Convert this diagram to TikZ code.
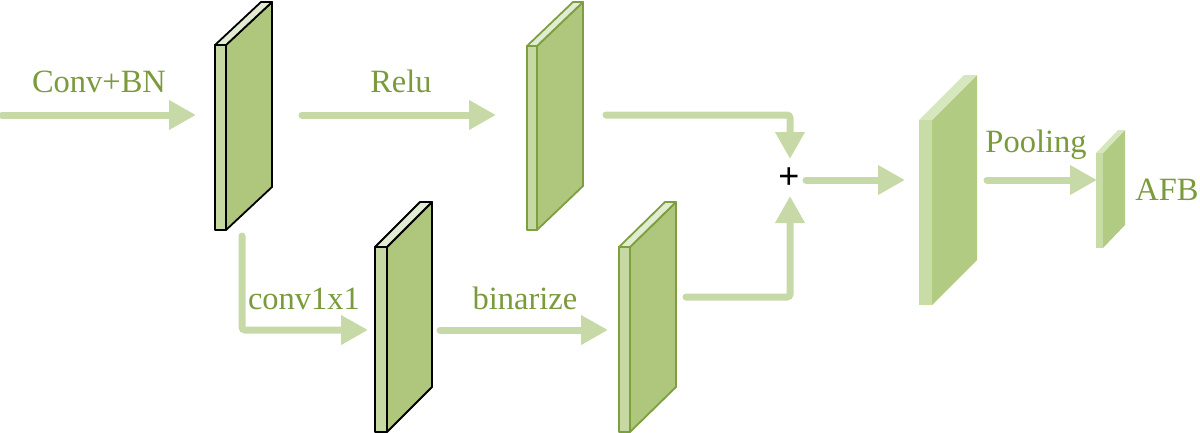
\documentclass[tikz,border=0pt]{standalone}
\usepackage{fontspec}
\setmainfont{Liberation Serif}
\newfontfamily\plusfont{Liberation Sans}
\usetikzlibrary{arrows.meta}
\definecolor{arrowc}{HTML}{C6D9A6}
\definecolor{txtc}{HTML}{7A9A3C}
\definecolor{sidec}{HTML}{AFC67D}
\definecolor{frontc}{HTML}{C6D9A3}
\definecolor{topc}{HTML}{E2ECD2}
\definecolor{edgec}{HTML}{7E9F40}
\definecolor{sidel}{HTML}{B2CB82}
\definecolor{frontl}{HTML}{C8DCA6}
\definecolor{topl}{HTML}{D6E6BE}
% #1 x, #2 ytop, #3 front width, #4 height, #5 dx, #6 dy, #7 side, #8 front, #9 outline opts
\newcommand\fmapblock[9]{%
  \path[fill=#8,#9] (#1,#2) rectangle (#1+#3,#2+#4);
  \path[fill=#7,#9] (#1+#3,#2) -- (#1+#3+#5,#2-#6) -- (#1+#3+#5,#2+#4-#6) -- (#1+#3,#2+#4) -- cycle;
  \path[fill=topc,#9] (#1,#2) -- (#1+#3,#2) -- (#1+#3+#5,#2-#6) -- (#1+#5,#2-#6) -- cycle;
}
\newcommand\fmapblockl[6]{%
  \path[fill=frontl] (#1,#2) rectangle (#1+#3,#2+#4);
  \path[fill=sidel] (#1+#3,#2) -- (#1+#3+#5,#2-#6) -- (#1+#3+#5,#2+#4-#6) -- (#1+#3,#2+#4) -- cycle;
  \path[fill=topl] (#1,#2) -- (#1+#3,#2) -- (#1+#3+#5,#2-#6) -- (#1+#5,#2-#6) -- cycle;
}
\tikzset{
  flow/.style={draw=arrowc, line width=7pt, line cap=round, rounded corners=3pt,
    -{Triangle[length=27pt,width=28pt]}},
  lbl/.style={text=txtc, font=\fontsize{32.5}{36}\selectfont, anchor=base, inner sep=0pt},
  plussign/.style={text=black, font=\plusfont\fontsize{36}{38}\selectfont, inner sep=0pt},
  blackedge/.style={draw=black, line width=1.8pt, line join=round},
  greenedge/.style={draw=edgec, line width=1.8pt, line join=round}
}
\begin{document}
\begin{tikzpicture}[x=1pt,y=-1pt]
\useasboundingbox (0,0) rectangle (1200,432);
% feature maps
\fmapblock{215}{45}{11}{185}{46}{43}{sidec}{frontc}{blackedge}
\fmapblock{527}{46}{10}{184}{46}{44}{sidec}{frontc}{greenedge}
\fmapblock{375}{247}{12}{185}{45}{45}{sidec}{frontc}{blackedge}
\fmapblock{619}{247}{11}{185}{46}{45}{sidec}{frontc}{greenedge}
\fmapblockl{919}{120}{13}{185}{45}{45}
\fmapblockl{1096}{153}{7}{95}{22}{23}
% coordinates
\coordinate (a1s) at (2,115);
\coordinate (a1e) at (196,115);
\coordinate (a2s) at (302,115);
\coordinate (a2e) at (496,115);
\coordinate (a3s) at (606,115);
\coordinate (a3c) at (790,115);
\coordinate (a3e) at (790,159);
\coordinate (a4s) at (242,236);
\coordinate (a4c) at (242,330);
\coordinate (a4e) at (368,330);
\coordinate (a5s) at (440,330);
\coordinate (a5e) at (608,330);
\coordinate (a6s) at (686,297);
\coordinate (a6c) at (790,297);
\coordinate (a6e) at (790,196);
\coordinate (a7s) at (806,180);
\coordinate (a7e) at (905,180);
\coordinate (a8s) at (987,180);
\coordinate (a8e) at (1097,180);
% arrows
\draw[flow] (a1s) -- (a1e);
\draw[flow] (a2s) -- (a2e);
\draw[flow] (a3s) -- (a3c) -- (a3e);
\draw[flow] (a4s) -- (a4c) -- (a4e);
\draw[flow] (a5s) -- (a5e);
\draw[flow] (a6s) -- (a6c) -- (a6e);
\draw[flow] (a7s) -- (a7e);
\draw[flow] (a8s) -- (a8e);
% labels
\node[lbl] (lconv) at (99,92) {Conv+BN};
\node[lbl] (lrelu) at (401,92) {Relu};
\node[lbl] (lc11) at (304,309) {conv1x1};
\node[lbl] (lbin) at (525,309) {binarize};
\node[lbl] (lpool) at (1036,152) {Pooling};
\node[lbl] (lafb) at (1167,200) {AFB};
\node[plussign] (plus) at (789,178) {+};
\end{tikzpicture}
\end{document}
